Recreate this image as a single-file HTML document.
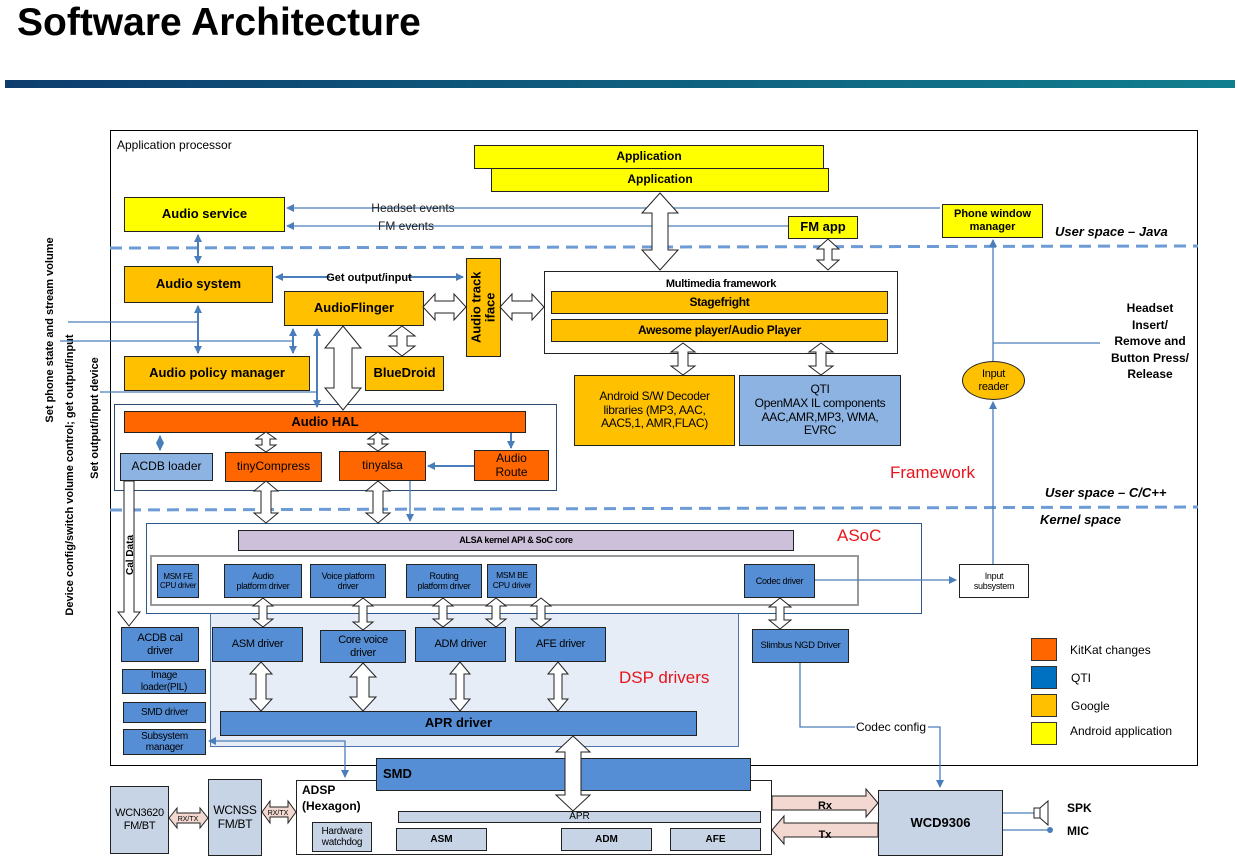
<!DOCTYPE html>
<html><head><meta charset="utf-8"><style>
body{margin:0;width:1238px;height:868px;background:#fff;position:relative;overflow:hidden;font-family:"Liberation Sans",sans-serif}
.b{position:absolute;box-sizing:border-box;border:1px solid #222;display:flex;align-items:center;justify-content:center;text-align:center;font-weight:bold;font-size:12px;line-height:1.15;color:#000}
.n{font-family:"Liberation Sans Narrow","Liberation Sans",sans-serif;letter-spacing:-0.3px}
.y{background:#ffff00}.o{background:#ffc000}.k{background:#ff6600}.q{background:#558ed5}.l{background:#8db3e2}.g{background:#c6d4e6}
.s{font-size:9px;font-weight:normal}
.t{position:absolute;white-space:nowrap}
svg{position:absolute;left:0;top:0}
</style></head><body>
<div class="t" style="left:17px;top:1px;font-size:39px;font-weight:bold">Software Architecture</div>
<div style="position:absolute;left:5px;top:80px;width:1230px;height:8px;background:linear-gradient(90deg,#0d3d6e,#117e8e)"></div>

<div style="position:absolute;left:110px;top:130px;width:1088px;height:636px;border:1px solid #000;box-sizing:border-box"></div>
<div class="t" style="left:117px;top:138px;font-size:12px">Application processor</div>

<div style="position:absolute;left:210px;top:613px;width:529px;height:134px;background:#e6edf7;border:1px solid #4f74a8;box-sizing:border-box"></div>
<div style="position:absolute;left:146px;top:523px;width:776px;height:91px;border:1px solid #2d5a8a;box-sizing:border-box"></div>
<div style="position:absolute;left:150px;top:555px;width:709px;height:51px;border:2px solid #999;box-sizing:border-box"></div>
<div style="position:absolute;left:114px;top:404px;width:443px;height:87px;border:1px solid #2d4a70;box-sizing:border-box"></div>
<div style="position:absolute;left:544px;top:271px;width:354px;height:83px;border:1px solid #222;box-sizing:border-box"></div>

<div class="b y" style="left:474px;top:145px;width:350px;height:24px">Application</div>
<div class="b y" style="left:491px;top:168px;width:338px;height:24px">Application</div>
<div class="b y" style="left:124px;top:197px;width:161px;height:35px;font-size:13px">Audio service</div>
<div class="b y" style="left:788px;top:216px;width:70px;height:23px;font-size:13px">FM app</div>
<div class="b y" style="left:942px;top:204px;width:101px;height:34px;font-size:11px">Phone window<br>manager</div>
<div class="b o" style="left:124px;top:266px;width:149px;height:37px;font-size:13px">Audio system</div>
<div class="b o" style="left:284px;top:291px;width:140px;height:35px;font-size:13px">AudioFlinger</div>
<div class="b o" style="left:466px;top:258px;width:35px;height:99px"><div style="transform:rotate(-90deg);white-space:nowrap;font-size:13px;line-height:1.1">Audio track<br>iface</div></div>
<div class="t n" style="left:544px;top:278px;width:354px;text-align:center;font-size:11px;font-weight:bold">Multimedia framework</div>
<div class="b o n" style="left:551px;top:291px;width:337px;height:23px;font-size:12px">Stagefright</div>
<div class="b o n" style="left:551px;top:319px;width:337px;height:23px;font-size:12px">Awesome player/Audio Player</div>
<div class="b o" style="left:124px;top:356px;width:186px;height:35px;font-size:13px">Audio policy manager</div>
<div class="b o" style="left:365px;top:356px;width:79px;height:35px;font-size:13px">BlueDroid</div>
<div class="b o n" style="left:574px;top:375px;width:161px;height:71px;font-weight:normal;font-size:12px">Android S/W Decoder<br>libraries (MP3, AAC,<br>AAC5,1, AMR,FLAC)</div>
<div class="b l n" style="left:739px;top:375px;width:162px;height:71px;font-weight:normal;font-size:12px">QTI<br>OpenMAX IL components<br>AAC,AMR,MP3, WMA,<br>EVRC</div>
<div class="b k" style="left:124px;top:411px;width:402px;height:22px;font-size:13px">Audio HAL</div>
<div class="b l" style="left:120px;top:453px;width:93px;height:28px;font-weight:normal;font-size:12px">ACDB loader</div>
<div class="b k" style="left:225px;top:452px;width:97px;height:30px;font-weight:normal;font-size:12px">tinyCompress</div>
<div class="b k" style="left:339px;top:451px;width:87px;height:30px;font-weight:normal;font-size:12px">tinyalsa</div>
<div class="b k" style="left:474px;top:450px;width:75px;height:31px;font-weight:normal;font-size:12px">Audio<br>Route</div>
<div class="b o n" style="left:962px;top:361px;width:63px;height:39px;border-radius:50%;font-weight:normal;font-size:11px">Input<br>reader</div>

<div class="b n" style="left:238px;top:530px;width:556px;height:21px;background:#ccc0da;font-size:9px">ALSA kernel API &amp; SoC core</div>
<div class="b q s n" style="left:157px;top:564px;width:42px;height:34px;font-size:8px">MSM FE<br>CPU driver</div>
<div class="b q s n" style="left:224px;top:564px;width:78px;height:34px">Audio<br>platform driver</div>
<div class="b q s n" style="left:310px;top:564px;width:76px;height:34px">Voice platform<br>driver</div>
<div class="b q s n" style="left:406px;top:564px;width:76px;height:34px">Routing<br>platform driver</div>
<div class="b q s n" style="left:487px;top:564px;width:50px;height:34px;font-size:8.5px">MSM BE<br>CPU driver</div>
<div class="b q s n" style="left:744px;top:564px;width:71px;height:34px">Codec driver</div>
<div class="b s n" style="left:959px;top:564px;width:70px;height:34px">Input<br>subsystem</div>

<div class="b q n" style="left:121px;top:627px;width:78px;height:35px;font-size:11px;font-weight:normal">ACDB cal<br>driver</div>
<div class="b q n" style="left:122px;top:669px;width:84px;height:25px;font-size:10px;font-weight:normal">Image<br>loader(PIL)</div>
<div class="b q n" style="left:123px;top:702px;width:83px;height:21px;font-size:10px;font-weight:normal">SMD driver</div>
<div class="b q n" style="left:123px;top:729px;width:83px;height:26px;font-size:10px;font-weight:normal">Subsystem<br>manager</div>
<div class="b q n" style="left:212px;top:627px;width:91px;height:35px;font-size:11px;font-weight:normal">ASM driver</div>
<div class="b q n" style="left:320px;top:630px;width:86px;height:33px;font-size:11px;font-weight:normal">Core voice<br>driver</div>
<div class="b q n" style="left:415px;top:627px;width:91px;height:35px;font-size:11px;font-weight:normal">ADM driver</div>
<div class="b q n" style="left:515px;top:627px;width:91px;height:35px;font-size:11px;font-weight:normal">AFE driver</div>
<div class="b q" style="left:220px;top:711px;width:477px;height:25px;font-size:13px">APR driver</div>
<div class="b q n" style="left:752px;top:629px;width:97px;height:34px;font-size:9.5px;font-weight:normal">Slimbus NGD Driver</div>

<div class="t" style="left:890px;top:463px;font-size:17px;color:#e8141c">Framework</div>
<div class="t" style="left:837px;top:526px;font-size:17px;color:#e8141c">ASoC</div>
<div class="t" style="left:619px;top:668px;font-size:17px;color:#e8141c">DSP drivers</div>
<div class="t" style="left:1055px;top:224px;font-size:13px;font-style:italic;font-weight:bold">User space – Java</div>
<div class="t" style="left:1045px;top:485px;font-size:13px;font-style:italic;font-weight:bold">User space – C/C++</div>
<div class="t" style="left:1040px;top:512px;font-size:13px;font-style:italic;font-weight:bold">Kernel space</div>
<div class="t" style="left:1095px;top:300px;width:110px;text-align:center;font-size:12px;font-weight:bold;line-height:16.5px">Headset<br>Insert/<br>Remove and<br>Button Press/<br>Release</div>

<div style="position:absolute;left:1031px;top:638px;width:24px;height:21px;background:#ff6600;border:1px solid #333"></div>
<div style="position:absolute;left:1031px;top:666px;width:24px;height:21px;background:#0070c0;border:1px solid #333"></div>
<div style="position:absolute;left:1031px;top:694px;width:24px;height:21px;background:#ffc000;border:1px solid #333"></div>
<div style="position:absolute;left:1031px;top:722px;width:24px;height:21px;background:#ffff00;border:1px solid #333"></div>
<div class="t" style="left:1070px;top:643px;font-size:12px">KitKat changes</div>
<div class="t" style="left:1071px;top:671px;font-size:12px">QTI</div>
<div class="t" style="left:1071px;top:699px;font-size:12px">Google</div>
<div class="t" style="left:1070px;top:724px;font-size:12px">Android application</div>

<div style="position:absolute;left:296px;top:780px;width:476px;height:75px;border:1px solid #222;box-sizing:border-box"></div>
<div class="b q" style="left:376px;top:758px;width:375px;height:33px;justify-content:flex-start;padding-left:6px;font-size:13px">SMD</div>
<div class="t" style="left:302px;top:782px;font-size:12px;font-weight:bold;line-height:16px">ADSP<br>(Hexagon)</div>
<div class="b g" style="left:398px;top:811px;width:363px;height:12px;font-size:10px;font-weight:normal">APR</div>
<div class="b g" style="left:396px;top:828px;width:91px;height:23px;font-size:10px">ASM</div>
<div class="b g" style="left:561px;top:828px;width:91px;height:23px;font-size:10px">ADM</div>
<div class="b g" style="left:670px;top:828px;width:91px;height:23px;font-size:10px">AFE</div>
<div class="b g n" style="left:312px;top:822px;width:60px;height:30px;font-size:10px;font-weight:normal">Hardware<br>watchdog</div>
<div class="b g n" style="left:110px;top:786px;width:59px;height:68px;font-size:11px;font-weight:normal">WCN3620<br>FM/BT</div>
<div class="b g n" style="left:208px;top:779px;width:54px;height:77px;font-size:12px;font-weight:normal">WCNSS<br>FM/BT</div>
<div class="b g" style="left:878px;top:790px;width:125px;height:66px;font-size:13px">WCD9306</div>
<div class="t" style="left:1067px;top:801px;font-size:12px;font-weight:bold">SPK</div>
<div class="t" style="left:1067px;top:824px;font-size:12px;font-weight:bold">MIC</div>

<div class="t" style="left:50px;top:330px;font-size:11px;font-weight:bold;transform:translate(-50%,-50%) rotate(-90deg)">Set phone state and stream volume</div>
<div class="t" style="left:70px;top:475px;font-size:11px;font-weight:bold;transform:translate(-50%,-50%) rotate(-90deg)">Device config/switch volume control;  get output/input</div>
<div class="t" style="left:95px;top:418px;font-size:11px;font-weight:bold;transform:translate(-50%,-50%) rotate(-90deg)">Set output/input device</div>

<svg id="sv" width="1238" height="868" xmlns="http://www.w3.org/2000/svg">
<defs><marker id="a" markerWidth="8" markerHeight="8" refX="7" refY="4" orient="auto-start-reverse" markerUnits="userSpaceOnUse"><path d="M0,0L8,4L0,8z" fill="#4a7ebb"/></marker></defs>
<g stroke="#6d9bd6" stroke-width="3" stroke-dasharray="12,7"><line x1="110" y1="248" x2="1198" y2="246"/><line x1="110" y1="510" x2="1198" y2="507"/></g>
<g stroke="#4a7ebb" stroke-width="1.3" fill="none">
<line x1="940" y1="208" x2="287" y2="208" marker-end="url(#a)"/>
<line x1="788" y1="226" x2="287" y2="226" marker-end="url(#a)"/>
<line x1="276" y1="277" x2="463" y2="277" marker-start="url(#a)" marker-end="url(#a)" stroke-width="2"/>
<line x1="198" y1="235" x2="198" y2="263" marker-start="url(#a)" marker-end="url(#a)" stroke-width="2"/>
<line x1="198" y1="306" x2="198" y2="353" marker-start="url(#a)" marker-end="url(#a)" stroke-width="2"/>
<line x1="293" y1="329" x2="293" y2="353" marker-start="url(#a)" marker-end="url(#a)" stroke-width="2"/>
<line x1="317" y1="329" x2="317" y2="407" marker-start="url(#a)" marker-end="url(#a)" stroke-width="2"/>
<line x1="160" y1="436" x2="160" y2="450" marker-start="url(#a)" marker-end="url(#a)" stroke-width="2"/>
<line x1="511" y1="433" x2="511" y2="448" marker-end="url(#a)" stroke-width="2"/>
<line x1="474" y1="466" x2="428" y2="466" marker-end="url(#a)" stroke-width="2"/>
<polyline points="410,481 410,521" marker-end="url(#a)"/>
<line x1="68" y1="322" x2="198" y2="322"/>
<line x1="60" y1="341" x2="293" y2="341"/>
<line x1="100" y1="392" x2="317" y2="392"/>
<line x1="993" y1="361" x2="993" y2="240" marker-end="url(#a)"/>
<line x1="993" y1="343" x2="1100" y2="343"/>
<line x1="993" y1="564" x2="993" y2="402" marker-end="url(#a)"/>
<line x1="815" y1="580" x2="956" y2="580" marker-end="url(#a)"/>
<polyline points="800,663 800,727 855,727"/><polyline points="928,727 940,727 940,787" marker-end="url(#a)"/>
<polyline points="209,741 345,741 345,777" marker-start="url(#a)" marker-end="url(#a)"/>
<line x1="1003" y1="813" x2="1034" y2="813"/><line x1="1003" y1="830" x2="1050" y2="830"/>
</g>
<circle cx="1050" cy="830" r="3" fill="#4a7ebb"/>
<path d="M1034,808h6v10h-6zM1040,808l8,-7v24l-8,-7" fill="#fff" stroke="#222"/>
<text x="891" y="731" font-size="12" text-anchor="middle" font-family="Liberation Sans">Codec config</text>
<text x="413" y="212" font-size="12" text-anchor="middle" font-family="Liberation Sans" fill="#222">Headset events</text>
<text x="406" y="230" font-size="12" text-anchor="middle" font-family="Liberation Sans" fill="#222">FM events</text>
<rect x="330" y="270" width="78" height="13" fill="#fff"/>
<text x="369" y="281" font-size="11" font-weight="bold" text-anchor="middle" font-family="Liberation Sans">Get output/input</text>
<g id="ar" fill="#fff" stroke="#222" stroke-width="1"></g>
<text x="0" y="0" font-size="10" font-weight="bold" font-family="Liberation Sans" transform="translate(133,575) rotate(-90)">Cal Data</text>
<text x="188" y="821" font-size="7" text-anchor="middle" font-family="Liberation Sans">RX/TX</text>
<text x="278" y="815" font-size="7" text-anchor="middle" font-family="Liberation Sans">RX/TX</text>
<text x="825" y="809" font-size="11" font-weight="bold" text-anchor="middle" font-family="Liberation Sans">Rx</text>
<text x="825" y="838" font-size="11" font-weight="bold" text-anchor="middle" font-family="Liberation Sans">Tx</text>
</svg>
<script>
var g=document.getElementById('ar'),NS='http://www.w3.org/2000/svg';
function P(pts,fill){var p=document.createElementNS(NS,'polygon');p.setAttribute('points',pts.map(function(a){return a.join(',')}).join(' '));if(fill)p.setAttribute('fill',fill);g.appendChild(p);}
function V(x,y1,y2,w,hw,hl,one){var s=w/2,h=hw/2;
 if(one){P([[x-s,y1],[x+s,y1],[x+s,y2-hl],[x+h,y2-hl],[x,y2],[x-h,y2-hl],[x-s,y2-hl]]);return;}
 P([[x,y1],[x+h,y1+hl],[x+s,y1+hl],[x+s,y2-hl],[x+h,y2-hl],[x,y2],[x-h,y2-hl],[x-s,y2-hl],[x-s,y1+hl],[x-h,y1+hl]]);}
function H(y,x1,x2,w,hw,hl,fill,one){var s=w/2,h=hw/2;
 if(one==1){P([[x1,y-s],[x2-hl,y-s],[x2-hl,y-h],[x2,y],[x2-hl,y+h],[x2-hl,y+s],[x1,y+s]],fill);return;}
 if(one==2){P([[x2,y-s],[x1+hl,y-s],[x1+hl,y-h],[x1,y],[x1+hl,y+h],[x1+hl,y+s],[x2,y+s]],fill);return;}
 P([[x1,y],[x1+hl,y-h],[x1+hl,y-s],[x2-hl,y-s],[x2-hl,y-h],[x2,y],[x2-hl,y+h],[x2-hl,y+s],[x1+hl,y+s],[x1+hl,y+h]],fill);}
V(660,193,270,16,36,20);V(828,239,270,8,22,10);V(343,326,410,18,36,22);V(402,326,356,10,26,10);
H(307,423,466,12,26,12);H(307,500,544,12,26,12);
V(683,343,375,10,24,9);V(821,343,375,10,24,9);
V(266,432,452,8,20,7);V(378,432,451,8,20,7);
V(266,481,523,10,24,10);V(378,481,523,10,24,10);
V(129,481,626,10,22,14,1);
V(263,598,627,8,20,8);V(363,598,630,8,20,8);V(443,598,627,8,20,8);V(496,598,627,8,20,8);V(541,598,627,8,20,8);V(780,598,629,8,22,9);
V(261,662,711,10,22,12);V(363,663,711,12,26,14);V(460,662,711,8,20,12);V(558,662,711,8,20,12);
V(573,736,811,16,34,16);
H(803,772,878,14,28,12,'#f2d8d0',1);H(830,772,878,14,28,12,'#f2d8d0',2);
H(818,169,208,10,20,8,'#f2d8d0');H(812,262,296,10,22,8,'#f2d8d0');
</script>
</body></html>
